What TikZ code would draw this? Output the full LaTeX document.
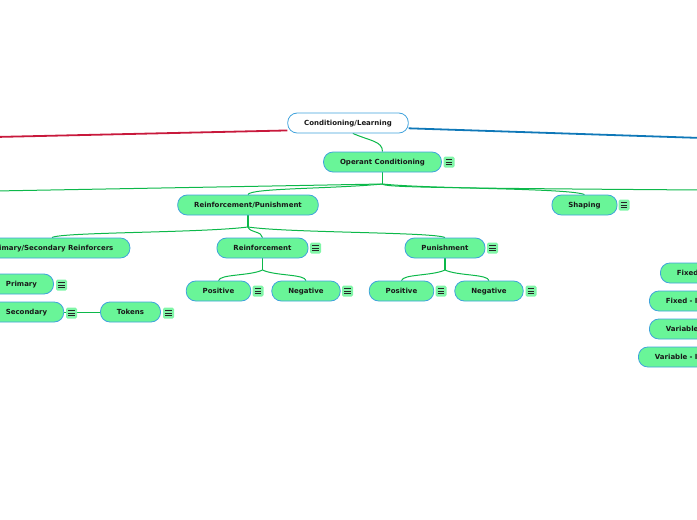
\documentclass[tikz,border=0pt]{standalone}
\usepackage{fontspec}
\setmainfont{DejaVu Sans}
\usetikzlibrary{backgrounds}
\definecolor{topicfill}{HTML}{69F598}
\definecolor{topicedge}{HTML}{3FA2DC}
\definecolor{linkgreen}{HTML}{0CB84A}
\definecolor{linkred}{HTML}{C8193C}
\definecolor{linkblue}{HTML}{0F78B8}
\tikzset{
  topic/.style={draw=topicedge,fill=topicfill,line width=0.8pt,rounded corners=9.5pt,
    minimum height=20pt,inner xsep=16.5pt,inner ysep=0pt,text=black!90,
    text height=5.6pt,text depth=0pt,
    font=\bfseries\fontsize{7}{8}\selectfont},
  root/.style={topic,fill=white},
  cutoff/.style={topic,anchor=west,text width=90pt,align=left},
  noteicon/.style={fill=topicfill!85!white,rounded corners=1.5pt,minimum size=11pt,inner sep=0pt,
    path picture={
      \foreach \dy in {-2.3,0,2.3}
        \draw[black!85,line width=0.45pt] ([xshift=-3.3pt,yshift=\dy pt]path picture bounding box.center)
          -- ([xshift=3.3pt,yshift=\dy pt]path picture bounding box.center);}},
  thick link/.style={linkgreen,line width=1.3pt},
  thin link/.style={linkgreen,line width=1pt}
}
\begin{document}
\begin{tikzpicture}[x=1pt,y=-1pt]
    \clip (0,0) rectangle (697,520);

    % topics
    \node [root] (root) at (348,123) {Conditioning/Learning};
    \node [topic] (operant) at (382.5,162) {Operant Conditioning};
    \node [topic] (reinfpun) at (248,205) {Reinforcement/Punishment};
    \node [topic] (shaping) at (584.5,205) {Shaping};
    \node [topic] (primsec) at (52,248) {Primary/Secondary Reinforcers};
    \node [topic] (reinf) at (262.5,248) {Reinforcement};
    \node [topic] (punish) at (445,248) {Punishment};
    \node [topic] (reinfpos) at (218.5,291) {Positive};
    \node [topic] (reinfneg) at (306,291) {Negative};
    \node [topic] (punpos) at (401.5,291) {Positive};
    \node [topic] (punneg) at (489,291) {Negative};
    \node [topic] (primary) at (21.5,284) {Primary};
    \node [topic] (secondary) at (26.5,312) {Secondary};
    \node [topic] (tokens) at (130.5,312) {Tokens};
    \node [cutoff] (fixedr) at (660,273) {Fixed};
    \node [cutoff] (fixedi) at (649,301) {Fixed - I};
    \node [cutoff] (variabler) at (649,329) {Variable};
    \node [cutoff] (variablei) at (638,357) {Variable - I};

    % forks and ends off the page
    \coordinate (redend) at (-5,137);
    \coordinate (blueend) at (702,138);
    \coordinate (opfork) at (382.5,184);
    \coordinate (opleft) at (-5,191);
    \coordinate (opright) at (702,190);
    \coordinate (rpfork) at (248,227);
    \coordinate (reinffork) at (262.5,270);
    \coordinate (punfork) at (445,270);

    \begin{scope}[on background layer]
        \draw [linkred,line width=1.8pt] (root.187) -- (redend);
        \draw [linkblue,line width=1.8pt] (root.-5) -- (blueend);
        \draw [thin link] (root.-65) .. controls (370,141) and (382.5,141) .. (operant.north);

        \draw [thick link] (operant.south) -- (opfork);
        \draw [thin link] (opfork) -- (opleft);
        \draw [thin link] (opfork) .. controls (385,187) and (420,188) .. (opright);
        \draw [thin link] (opfork) .. controls (330,189) and (250,188) .. (reinfpun.north);
        \draw [thin link] (opfork) .. controls (430,189) and (570,188) .. (shaping.north);

        \draw [thick link] (reinfpun.south) -- (rpfork);
        \draw [thin link] (rpfork) .. controls (200,233) and (60,232) .. (primsec.north);
        \draw [thin link] (rpfork) .. controls (250,233) and (262,231) .. (reinf.north);
        \draw [thin link] (rpfork) .. controls (290,233) and (435,232) .. (punish.north);

        \draw [thick link] (reinf.south) -- (reinffork);
        \draw [thin link] (reinffork) .. controls (250,276) and (220,274) .. (reinfpos.north);
        \draw [thin link] (reinffork) .. controls (275,276) and (305,274) .. (reinfneg.north);

        \draw [thick link] (punish.south) -- (punfork);
        \draw [thin link] (punfork) .. controls (432,276) and (403,274) .. (punpos.north);
        \draw [thin link] (punfork) .. controls (458,276) and (488,274) .. (punneg.north);

        \draw [thin link] (secondary) -- (tokens);
    \end{scope}

    % note marks
    \node [noteicon] (operantnote) at (449,162) {};
    \node [noteicon] (shapingnote) at (624,205) {};
    \node [noteicon] (reinfnote) at (315.5,248) {};
    \node [noteicon] (punishnote) at (492.5,248) {};
    \node [noteicon] (reinfposnote) at (258,291) {};
    \node [noteicon] (reinfnegnote) at (347.5,291) {};
    \node [noteicon] (punposnote) at (441,291) {};
    \node [noteicon] (punnegnote) at (531,291) {};
    \node [noteicon] (primarynote) at (61.5,285) {};
    \node [noteicon] (secondarynote) at (71.5,313) {};
    \node [noteicon] (tokensnote) at (168.5,313) {};
\end{tikzpicture}
\end{document}
